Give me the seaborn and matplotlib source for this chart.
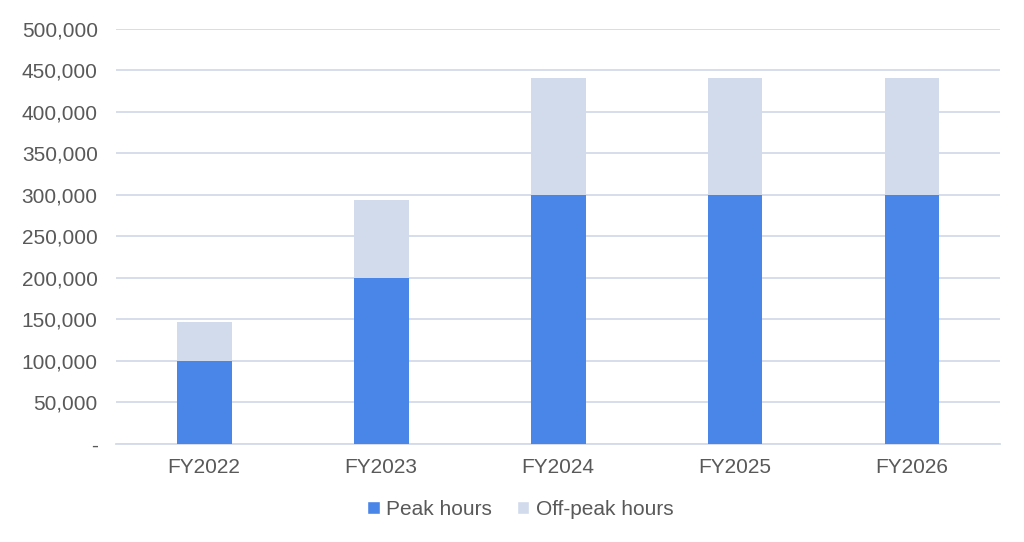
import numpy as np
import pandas as pd
import matplotlib
matplotlib.use("Agg")
import matplotlib.pyplot as plt
from matplotlib.patches import Patch
from matplotlib.ticker import FuncFormatter
import seaborn as sns

# Données
annees = ["FY2022", "FY2023", "FY2024", "FY2025", "FY2026"]
heures_pointe = [100000, 200000, 300000, 300000, 300000]
heures_creuses = [47000, 94000, 141000, 141000, 141000]

couleur_pointe = "#4A86E8"
couleur_creuse = "#D2DBEC"
couleur_texte = "#595959"
couleur_grille = "#D3DAE9"

df = pd.DataFrame({
    "annee": annees,
    "pointe": heures_pointe,
    "creuse": heures_creuses,
})
df["total"] = df["pointe"] + df["creuse"]

sns.set_theme(style="white")
plt.rcParams["font.family"] = ["Liberation Sans", "DejaVu Sans"]

fig = plt.figure(figsize=(10.24, 5.42), dpi=100)
ax = fig.add_axes([0.113, 0.181, 0.864, 0.7655])

# Empilement : total (heures creuses) puis heures de pointe par-dessus
sns.barplot(data=df, x="annee", y="total", color=couleur_creuse,
            width=0.31, saturation=1, linewidth=0, ax=ax, zorder=2)
sns.barplot(data=df, x="annee", y="pointe", color=couleur_pointe,
            width=0.31, saturation=1, linewidth=0, ax=ax, zorder=3)

ax.set_ylim(0, 500000)
ax.set_yticks(np.arange(0, 500001, 50000))
ax.yaxis.set_major_formatter(
    FuncFormatter(lambda v, _: "-" if v == 0 else f"{int(v):,}")
)
ax.grid(axis="y", color=couleur_grille, linewidth=1.3, zorder=0)
ax.set_axisbelow(True)

for cote in ["top", "right", "left"]:
    ax.spines[cote].set_visible(False)
ax.spines["bottom"].set_color(couleur_grille)
ax.spines["bottom"].set_linewidth(1.3)

ax.set_xlabel("")
ax.set_ylabel("")
ax.tick_params(axis="both", length=0, labelsize=15, colors=couleur_texte)
ax.tick_params(axis="y", pad=13)
ax.tick_params(axis="x", pad=10)

poignees = [
    Patch(facecolor=couleur_pointe, label="Peak hours"),
    Patch(facecolor=couleur_creuse, label="Off-peak hours"),
]
leg = fig.legend(
    handles=poignees,
    loc="center",
    bbox_to_anchor=(0.508, 0.06),
    ncol=2,
    frameon=False,
    fontsize=15,
    handlelength=0.6,
    handleheight=0.6,
    handletextpad=0.3,
    columnspacing=1.2,
)
for t in leg.get_texts():
    t.set_color(couleur_texte)

fig.savefig("out.png", dpi=100)
